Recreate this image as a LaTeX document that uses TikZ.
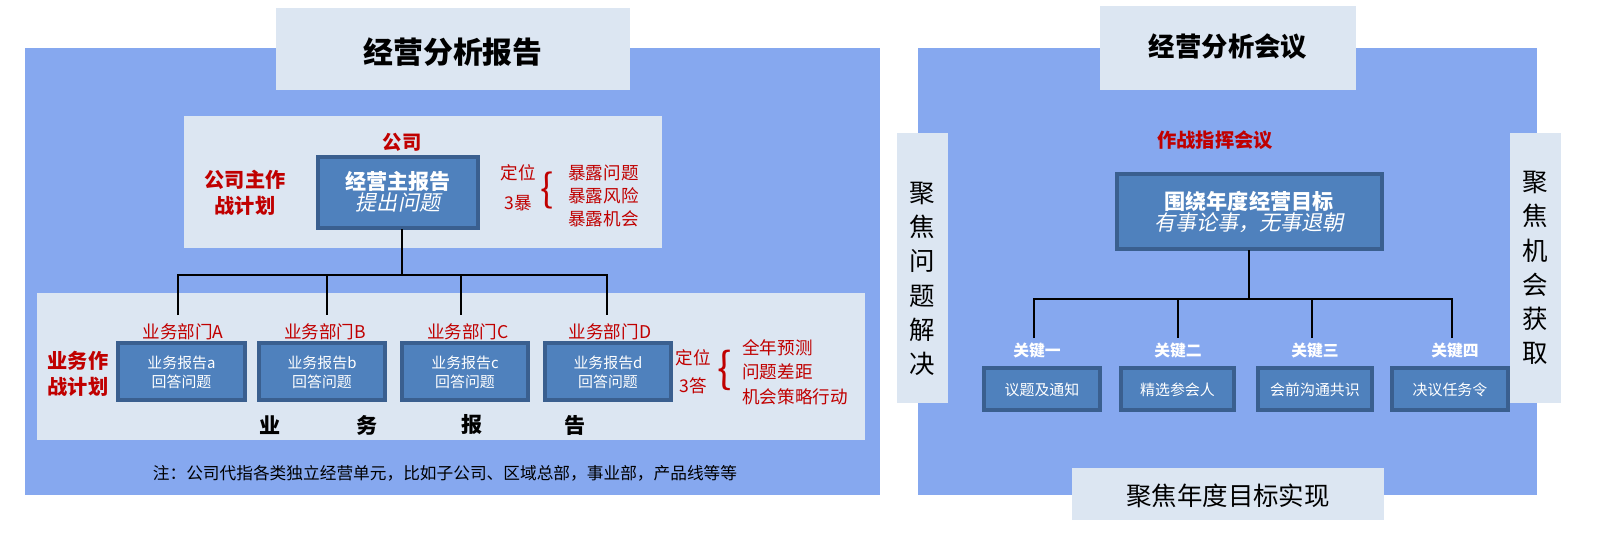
\documentclass[tikz,border=0pt]{standalone}
\usepackage{fontspec}
\setmainfont{Noto Sans CJK SC}
\newfontfamily\cjkit[FakeSlant=0.2]{Noto Sans CJK SC}
\definecolor{panel}{HTML}{86A8EF}
\definecolor{light}{HTML}{DCE6F2}
\definecolor{bx}{HTML}{4F81BD}
\definecolor{bxb}{HTML}{3A5F8F}
\definecolor{rd}{HTML}{C00000}
\tikzset{
 px/.style={x=0.02cm,y=-0.02cm},
 bluebox/.style={fill=bx,draw=bxb,line width=2.2pt,inner sep=0pt},
 wt/.style={text=white,align=center,inner sep=0pt},
 redt/.style={text=rd,font=\fontsize{11}{13}\selectfont\bfseries,align=center,inner sep=0pt},
 redn/.style={text=rd,font=\fontsize{10}{12}\selectfont,align=center,inner sep=0pt},
 conn/.style={line width=1pt,black},
 ttl/.style={font=\fontsize{17}{20}\selectfont\bfseries,inner sep=0pt},
}
\begin{document}
\begin{tikzpicture}[px]
% left panel
\fill[panel] (25,48) rectangle (880,495);
\fill[light] (276,8) rectangle (630,90);
\node[ttl] (t1) at (453,52) {经营分析报告};
\fill[light] (184,116) rectangle (662,248);
\node[redt] (gs) at (402,142) {公司};
\node[redt,font=\fontsize{11.5}{15}\selectfont\bfseries] (gszz) at (245,193) {公司主作\\战计划};
\draw[bluebox] (318,157) rectangle (478,228);
\node[wt] (main) at (398,192) {\fontsize{12}{16}\selectfont\bfseries 经营主报告\\\cjkit\fontsize{12}{16}\selectfont 提出问题};
\coordinate (mb) at (402,229);
\node[redn,font=\fontsize{10}{17}\selectfont] (dw1) at (518,188) {定位\\3暴};
\node[text=rd,font=\fontsize{22}{22}\selectfont,inner sep=0pt] (br1) at (547,190) {\{};
\node[redn,font=\fontsize{10}{13}\selectfont,anchor=west] (bl1) at (568,196) {暴露问题\\暴露风险\\暴露机会};
\fill[light] (37,293) rectangle (865,440);
\coordinate (j1) at (402,275);
\draw[conn] (mb) -- (j1);
\draw[conn] (178,315) -- (178,275) -- (607,275) -- (607,315);
\draw[conn] (327,275) -- (327,315);
\draw[conn] (461,275) -- (461,315);
\foreach \x/\l/\a/\b in {183/A/118/245, 325/B/259/385, 468/C/402/528, 610/D/545/671}{
 \node[redn] at (\x,332) {业务部门\l};
 \draw[bluebox] (\a,343) rectangle (\b,400);
}
\node[wt,font=\fontsize{8.5}{11}\selectfont] (ra) at (181.5,372) {业务报告a\\回答问题};
\node[wt,font=\fontsize{8.5}{11}\selectfont] (rb) at (322,372) {业务报告b\\回答问题};
\node[wt,font=\fontsize{8.5}{11}\selectfont] (rc) at (465,372) {业务报告c\\回答问题};
\node[wt,font=\fontsize{8.5}{11}\selectfont] (rd2) at (608,372) {业务报告d\\回答问题};
\node[redt,font=\fontsize{11.5}{15}\selectfont\bfseries] (ywzz) at (78,374) {业务作\\战计划};
\node[redn,font=\fontsize{10}{16}\selectfont] (dw2) at (693,372) {定位\\3答};
\node[text=rd,font=\fontsize{24}{24}\selectfont,inner sep=0pt] (br2) at (725,370) {\{};
\node[redn,font=\fontsize{10}{14}\selectfont,align=left,anchor=west] (bl2) at (742,372) {全年预测\\问题差距\\机会策略行动};
\foreach \x/\c in {270/业,367/务,472/报,575/告}
 \node[font=\fontsize{12}{14}\selectfont\bfseries,inner sep=0pt] at (\x,425) {\c};
\node[font=\fontsize{9.5}{12}\selectfont,inner sep=0pt] (note) at (445,473) {注：公司代指各类独立经营单元，比如子公司、区域总部，事业部，产品线等等};
% right panel
\fill[panel] (918,48) rectangle (1537,495);
\fill[light] (1100,6) rectangle (1356,90);
\node[ttl,font=\fontsize{15}{18}\selectfont\bfseries] (t2) at (1228,47) {经营分析会议};
\fill[light] (897,133) rectangle (948,403);
\node[font=\fontsize{14.5}{19.5}\selectfont,align=center,inner sep=0pt] (v1) at (922,279) {聚\\焦\\问\\题\\解\\决};
\fill[light] (1510,133) rectangle (1561,403);
\node[font=\fontsize{14.5}{19.5}\selectfont,align=center,inner sep=0pt] (v2) at (1535,268) {聚\\焦\\机\\会\\获\\取};
\fill[light] (1072,468) rectangle (1384,520);
\node[font=\fontsize{14.5}{17}\selectfont,inner sep=0pt] (bt) at (1228,496) {聚焦年度目标实现};
\node[redt] (zz) at (1215,140) {作战指挥会议};
\draw[bluebox] (1117,174) rectangle (1382,249);
\node[wt] (main2) at (1249,212) {\fontsize{12}{16}\selectfont\bfseries 围绕年度经营目标\\\cjkit\fontsize{12}{16}\selectfont 有事论事，无事退朝};
\coordinate (mb2) at (1249,250);
\coordinate (j2) at (1249,299);
\draw[conn] (mb2) -- (j2);
\draw[conn] (1034,338) -- (1034,299) -- (1452,299) -- (1452,338);
\draw[conn] (1178,299) -- (1178,338);
\draw[conn] (1312,299) -- (1312,338);
\foreach \x/\k/\a/\b/\t in {1037/一/984/1100/议题及通知, 1178/二/1121/1234/精选参会人, 1315/三/1258/1372/会前沟通共识, 1455/四/1392/1508/决议任务令}{
 \node[wt,font=\fontsize{9}{11}\selectfont\bfseries] at (\x,351) {关键\k};
 \draw[bluebox] (\a,368) rectangle (\b,410);
 \node[wt,font=\fontsize{8.5}{11}\selectfont] at ({(\a+\b)/2},390) {\t};
}
\pgfresetboundingbox
\path[use as bounding box] (0,0) rectangle (1615,541);
\end{tikzpicture}
\end{document}
